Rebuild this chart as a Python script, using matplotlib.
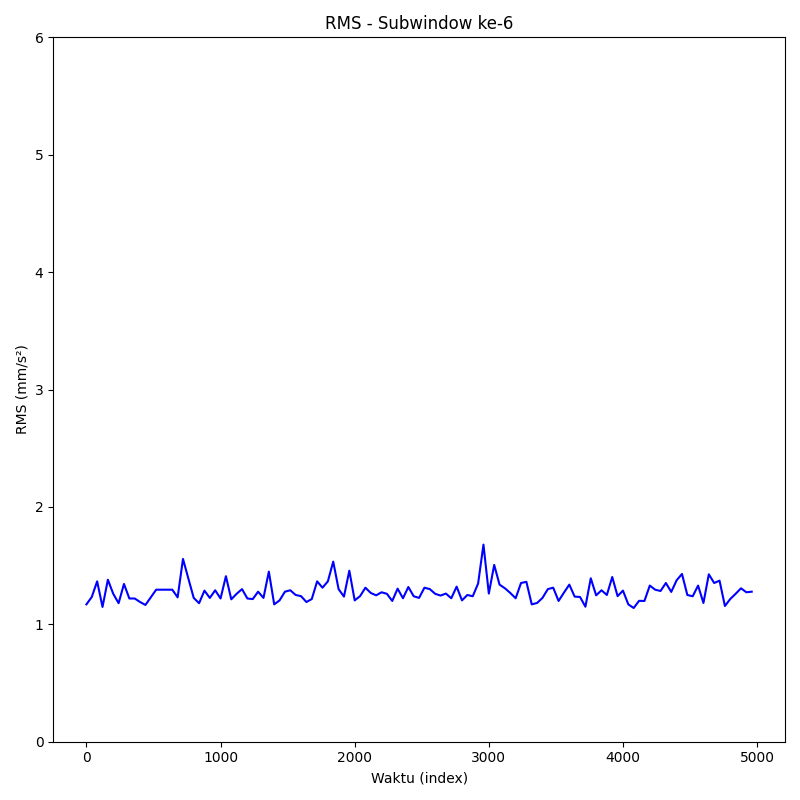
import matplotlib
matplotlib.use("Agg")
import matplotlib.pyplot as plt
import numpy as np

# RMS per window (step of 40 samples)
WINDOW_STEP = 40
rms_values = [
    1.17, 1.233, 1.366, 1.148, 1.38, 1.26, 1.18, 1.344, 1.22, 1.22,
    1.19, 1.165, 1.23, 1.295, 1.295, 1.295, 1.295, 1.23, 1.557, 1.39,
    1.225, 1.18, 1.287, 1.225, 1.29, 1.22, 1.41, 1.213, 1.26, 1.30,
    1.22, 1.215, 1.278, 1.225, 1.449, 1.17, 1.204, 1.278, 1.29, 1.25,
    1.24, 1.19, 1.215, 1.366, 1.312, 1.366, 1.534, 1.30, 1.236, 1.457,
    1.204, 1.24, 1.312, 1.267, 1.247, 1.273, 1.26, 1.199, 1.304, 1.222,
    1.318, 1.239, 1.225, 1.312, 1.30, 1.26, 1.245, 1.262, 1.222, 1.321,
    1.204, 1.25, 1.239, 1.347, 1.679, 1.262, 1.506, 1.338, 1.307, 1.267,
    1.222, 1.352, 1.362, 1.17, 1.182, 1.225, 1.30, 1.312, 1.199, 1.27,
    1.338, 1.236, 1.233, 1.15, 1.392, 1.247, 1.29, 1.25, 1.403, 1.24,
    1.287, 1.17, 1.139, 1.2, 1.199, 1.33, 1.295, 1.284, 1.352, 1.276,
    1.375, 1.429, 1.25, 1.239, 1.33, 1.182, 1.426, 1.352, 1.372, 1.156,
    1.216, 1.26, 1.307, 1.273, 1.278,
]
index = WINDOW_STEP * np.arange(len(rms_values))

fig, ax = plt.subplots(figsize=(8, 8), dpi=100)
ax.plot(index, rms_values, color="blue", linewidth=1.5)
ax.set_ylim(0, 6)
ax.set_title("RMS - Subwindow ke-6")
ax.set_xlabel("Waktu (index)")
ax.set_ylabel("RMS (mm/s²)")
plt.tight_layout()
plt.savefig("out.png", dpi=100)
plt.close()
